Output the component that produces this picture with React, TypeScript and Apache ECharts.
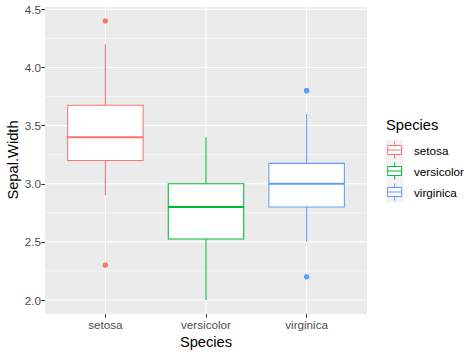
import React, { useEffect, useRef } from "react";
import * as echarts from "echarts";

const categories = ["setosa", "versicolor", "virginica"];
const whiskerLow = [2.9, 2.0, 2.5];
const q1 = [3.2, 2.525, 2.8];
const medians = [3.4, 2.8, 3.0];
const q3 = [3.675, 3.0, 3.175];
const whiskerHigh = [4.2, 3.4, 3.6];
const outliers: number[][] = [[4.4, 2.3], [], [3.8, 3.8, 2.2]];
const yMajorTicks = [2.0, 2.5, 3.0, 3.5, 4.0, 4.5];
const yMinorBreaks = [2.25, 2.75, 3.25, 3.75, 4.25];
const xPositions = [1, 2, 3];

const palette = ["#F8766D", "#00BA38", "#619CFF"];
const FONT = "'Liberation Sans', Arial, sans-serif";
const X_MIN = 0.4;
const X_MAX = 3.6;
const Y_MIN = 1.88;
const Y_MAX = 4.52;

export default function App() {
  const ref = useRef<HTMLDivElement>(null);
  useEffect(() => {
    if (!ref.current) return;
    const chart = echarts.init(ref.current, null, { renderer: "svg" });

    const boxData = categories.map((_, i) => [
      xPositions[i],
      whiskerLow[i],
      q1[i],
      medians[i],
      q3[i],
      whiskerHigh[i],
    ]);

    const gridLineData = [
      ...yMajorTicks.map((v) => [0, v, 1.07]),
      ...yMinorBreaks.map((v) => [0, v, 0.53]),
      ...xPositions.map((v) => [1, v, 1.07]),
    ];

    const legendX = 386;
    const keyW = 17.3;
    const keyH = 20.7;
    const keyCenters = [150, 171, 192];
    const legendGraphics: any[] = [
      {
        type: "text",
        x: 13,
        y: 160,
        rotation: Math.PI / 2,
        style: {
          text: "Sepal.Width",
          fontSize: 14.7,
          fontFamily: FONT,
          fill: "#000",
          align: "center",
          verticalAlign: "middle",
        },
      },
      {
        type: "text",
        left: 386,
        top: 117,
        style: { text: "Species", fontSize: 14.7, fontFamily: FONT, fill: "#000" },
      },
    ];
    categories.forEach((c, i) => {
      const cy = keyCenters[i];
      const cx = legendX + keyW / 2;
      const col = palette[i];
      legendGraphics.push(
        { type: "rect", shape: { x: legendX, y: cy - keyH / 2, width: keyW, height: keyH }, style: { fill: "#F2F2F2" } },
        { type: "line", shape: { x1: cx, y1: cy - 8.5, x2: cx, y2: cy - 4.5 }, style: { stroke: col, lineWidth: 1 } },
        { type: "line", shape: { x1: cx, y1: cy + 4.5, x2: cx, y2: cy + 8.5 }, style: { stroke: col, lineWidth: 1 } },
        { type: "rect", shape: { x: legendX + 1.7, y: cy - 4.5, width: keyW - 3.4, height: 9 }, style: { fill: "#fff", stroke: col, lineWidth: 1 } },
        { type: "line", shape: { x1: legendX + 1.7, y1: cy, x2: legendX + keyW - 1.7, y2: cy }, style: { stroke: col, lineWidth: 1 } },
        {
          type: "text",
          x: 414,
          y: cy,
          style: { text: c, fontSize: 11.7, fontFamily: FONT, fill: "#000", verticalAlign: "middle", align: "left" },
        }
      );
    });

    chart.setOption({
      animation: false,
      grid: {
        left: 45,
        top: 7,
        width: 322,
        height: 307,
        show: true,
        backgroundColor: "#EBEBEB",
        borderWidth: 0,
        containLabel: false,
        outerBoundsMode: "none",
      },
      xAxis: {
        type: "value",
        min: X_MIN,
        max: X_MAX,
        name: "Species",
        nameLocation: "middle",
        nameGap: 18,
        nameTextStyle: { fontSize: 14.7, fontFamily: FONT, color: "#000", verticalAlign: "top" },
        axisLine: { show: false },
        splitLine: { show: false },
        axisTick: { show: true, customValues: xPositions, length: 3.7, lineStyle: { color: "#333333", width: 1 } },
        axisLabel: {
          customValues: xPositions,
          formatter: (v: number) => categories[Math.round(v) - 1] ?? "",
          fontSize: 11.7,
          fontFamily: FONT,
          color: "#4D4D4D",
          margin: 4,
        },
      },
      yAxis: {
        type: "value",
        min: Y_MIN,
        max: Y_MAX,
        axisLine: { show: false },
        splitLine: { show: false },
        axisTick: { show: true, customValues: yMajorTicks, length: 3.7, lineStyle: { color: "#333333", width: 1 } },
        axisLabel: {
          customValues: yMajorTicks,
          formatter: (v: number) => v.toFixed(1),
          fontSize: 11.7,
          fontFamily: FONT,
          color: "#4D4D4D",
          margin: 4,
        },
      },
      series: [
        {
          type: "custom",
          silent: true,
          z: 1,
          data: gridLineData,
          encode: { x: -1, y: -1 },
          renderItem: (params: any, api: any) => {
            const dir = api.value(0);
            const v = api.value(1);
            const w = api.value(2);
            let a, b;
            if (dir === 0) {
              a = api.coord([X_MIN, v]);
              b = api.coord([X_MAX, v]);
            } else {
              a = api.coord([v, Y_MIN]);
              b = api.coord([v, Y_MAX]);
            }
            return {
              type: "line",
              shape: { x1: a[0], y1: a[1], x2: b[0], y2: b[1] },
              style: { stroke: "#FFFFFF", lineWidth: w },
            };
          },
        },
        {
          type: "custom",
          z: 2,
          data: boxData,
          encode: { x: 0, y: [1, 2, 3, 4, 5] },
          renderItem: (params: any, api: any) => {
            const x = api.value(0);
            const pLo = api.coord([x, api.value(1)]);
            const pQ1 = api.coord([x, api.value(2)]);
            const pMed = api.coord([x, api.value(3)]);
            const pQ3 = api.coord([x, api.value(4)]);
            const pHi = api.coord([x, api.value(5)]);
            const halfW = api.size([0.75, 0])[0] / 2;
            const col = palette[params.dataIndex];
            return {
              type: "group",
              children: [
                { type: "line", shape: { x1: pLo[0], y1: pLo[1], x2: pQ1[0], y2: pQ1[1] }, style: { stroke: col, lineWidth: 1.07 } },
                { type: "line", shape: { x1: pQ3[0], y1: pQ3[1], x2: pHi[0], y2: pHi[1] }, style: { stroke: col, lineWidth: 1.07 } },
                {
                  type: "rect",
                  shape: { x: pQ1[0] - halfW, y: pQ3[1], width: 2 * halfW, height: pQ1[1] - pQ3[1] },
                  style: { fill: "#FFFFFF", stroke: col, lineWidth: 1.07 },
                },
                { type: "line", shape: { x1: pMed[0] - halfW, y1: pMed[1], x2: pMed[0] + halfW, y2: pMed[1] }, style: { stroke: col, lineWidth: 2.1 } },
              ],
            };
          },
        },
        ...categories.map((c, i) => ({
          type: "scatter",
          name: c,
          z: 3,
          symbol: "circle",
          symbolSize: 5.5,
          itemStyle: { color: palette[i], opacity: 1 },
          data: outliers[i].map((v) => [xPositions[i], v]),
        })),
      ],
      graphic: legendGraphics,
    });
    return () => chart.dispose();
  }, []);
  return (
    <div
      ref={ref}
      style={{ position: "absolute", left: 0, top: 0, width: 474, height: 355 }}
    />
  );
}
